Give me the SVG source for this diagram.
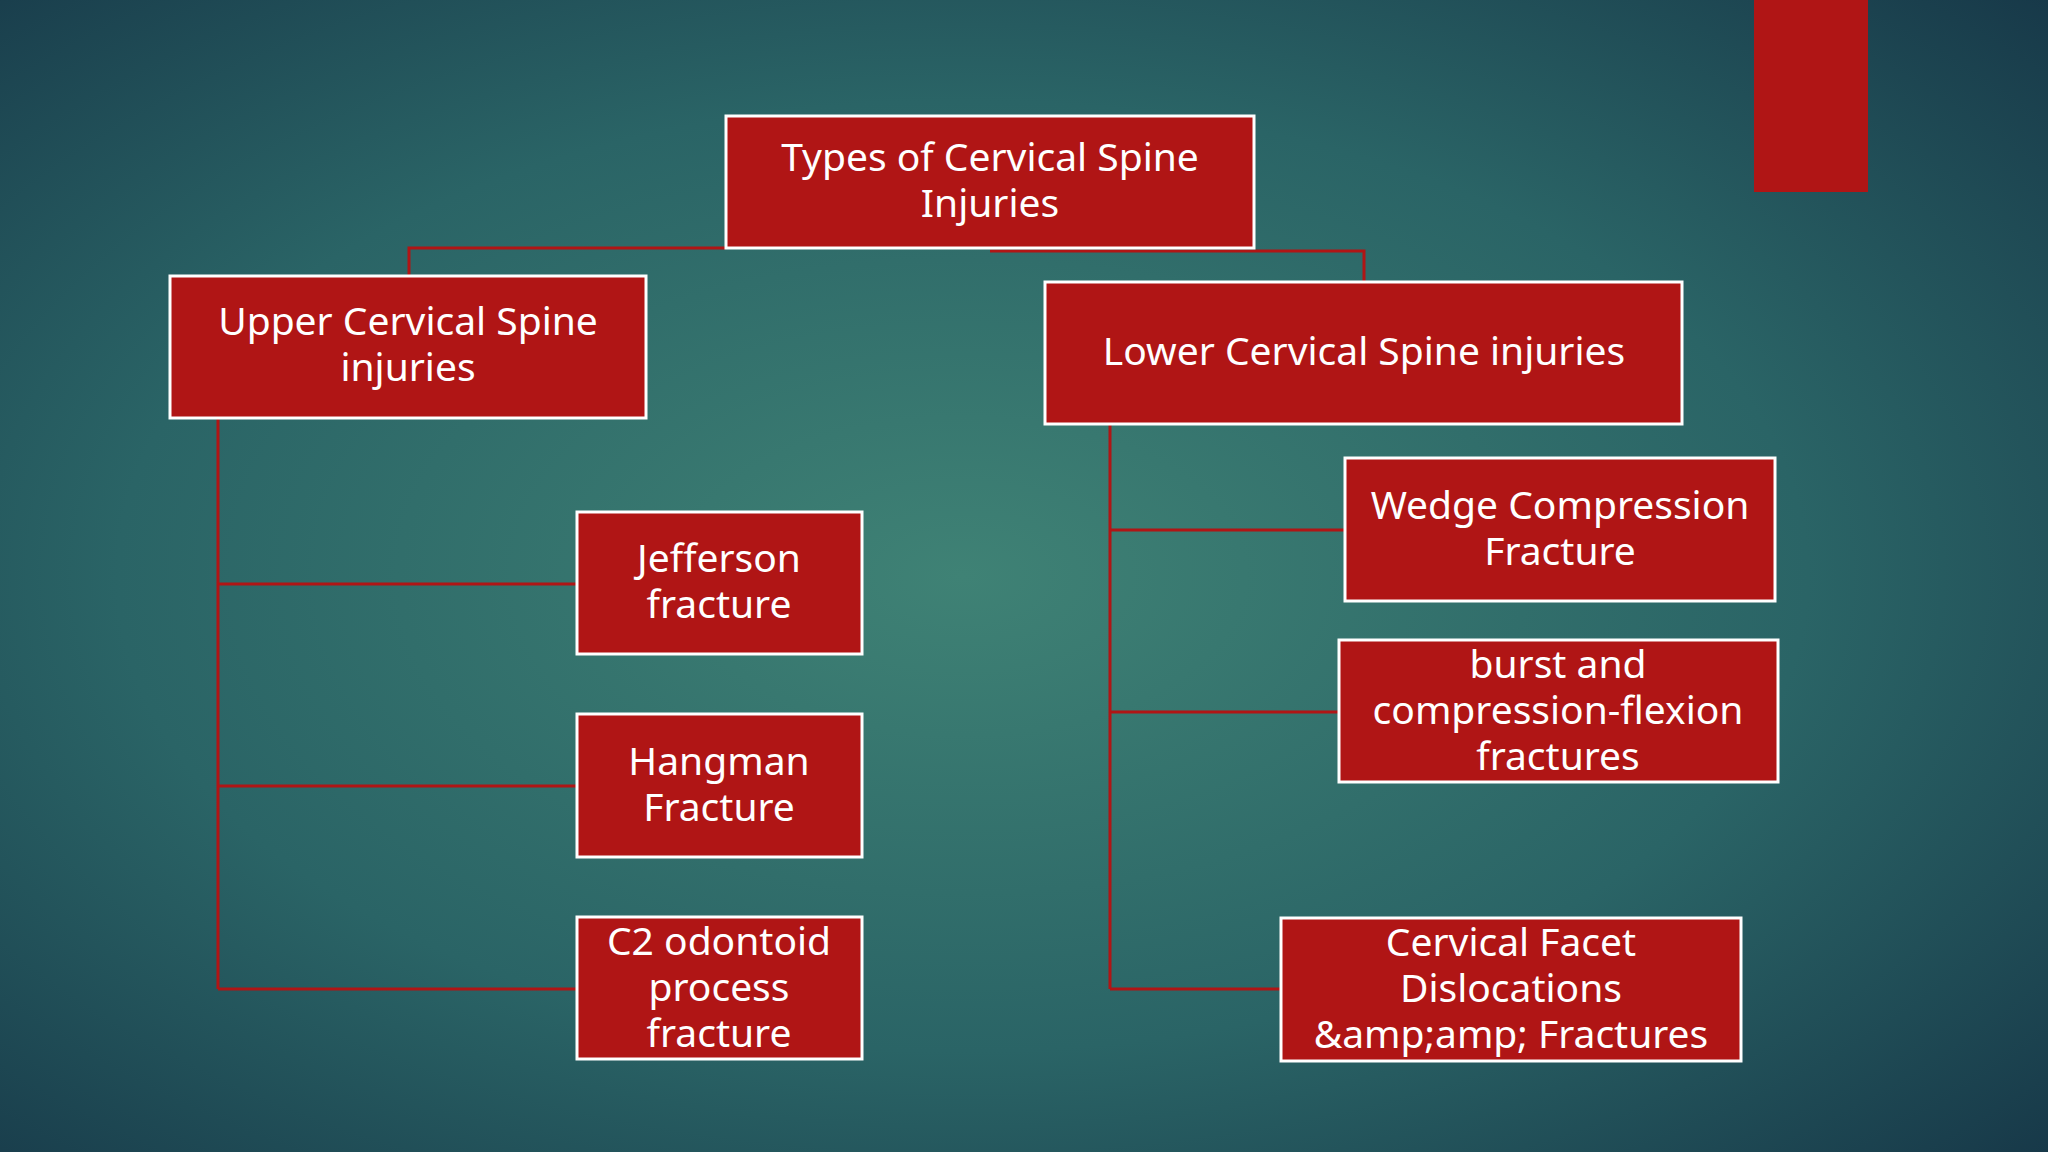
<svg xmlns="http://www.w3.org/2000/svg" width="2048" height="1152" viewBox="0 0 2048 1152">
<defs>
<radialGradient id="bg" cx="0.47" cy="0.5" r="0.75">
<stop offset="0" stop-color="#3f8275"/>
<stop offset="0.55" stop-color="#2a6466"/>
<stop offset="1" stop-color="#163647"/>
</radialGradient>
<style>
.n{fill:#b01515;stroke:#ffffff;stroke-width:3}
.t{font-family:"Noto Sans","Open Sans",sans-serif;font-size:39px;fill:#ffffff;text-anchor:middle}
.c{fill:none;stroke:#b01515;stroke-width:3}
</style>
</defs>
<rect width="2048" height="1152" fill="url(#bg)"/>
<rect x="1754" y="0" width="114" height="192" fill="#b01515"/>
<g id="connectors">
<path class="c" d="M409 276V248H726"/>
<path class="c" d="M990 251H1364V282"/>
<path class="c" d="M218 418V989M218 584H577M218 786H577M218 989H577"/>
<path class="c" d="M1110 424V989M1110 530H1345M1110 712H1339M1110 989H1281"/>
</g>
<g id="top"><rect class="n" x="726" y="116" width="528" height="132"/><text class="t" x="990" y="171">Types of Cervical Spine</text><text class="t" x="990" y="217">Injuries</text></g>
<g id="upper"><rect class="n" x="170" y="276" width="476" height="142"/><text class="t" x="408" y="335">Upper Cervical Spine</text><text class="t" x="408" y="381">injuries</text></g>
<g id="lower"><rect class="n" x="1045" y="282" width="637" height="142"/><text class="t" x="1364" y="365">Lower Cervical Spine injuries</text></g>
<g id="jefferson"><rect class="n" x="577" y="512" width="285" height="142"/><text class="t" x="719" y="572">Jefferson</text><text class="t" x="719" y="618">fracture</text></g>
<g id="hangman"><rect class="n" x="577" y="714" width="285" height="143"/><text class="t" x="719" y="775">Hangman</text><text class="t" x="719" y="821">Fracture</text></g>
<g id="c2"><rect class="n" x="577" y="917" width="285" height="142"/><text class="t" x="719" y="955">C2 odontoid</text><text class="t" x="719" y="1001">process</text><text class="t" x="719" y="1047">fracture</text></g>
<g id="wedge"><rect class="n" x="1345" y="458" width="430" height="143"/><text class="t" x="1560" y="519">Wedge Compression</text><text class="t" x="1560" y="565">Fracture</text></g>
<g id="burst"><rect class="n" x="1339" y="640" width="439" height="142"/><text class="t" x="1558" y="678">burst and</text><text class="t" x="1558" y="724">compression-flexion</text><text class="t" x="1558" y="770">fractures</text></g>
<g id="facet"><rect class="n" x="1281" y="918" width="460" height="143"/><text class="t" x="1511" y="956">Cervical Facet</text><text class="t" x="1511" y="1002">Dislocations</text><text class="t" x="1511" y="1048">&amp;amp;amp; Fractures</text></g>
</svg>
